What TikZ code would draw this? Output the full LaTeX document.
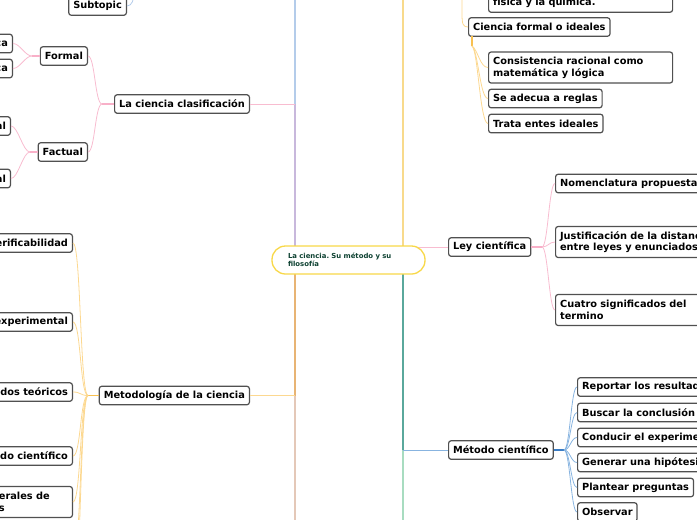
\documentclass[tikz,border=0pt]{standalone}
\usepackage{fontspec}
\setmainfont{DejaVu Sans}
\frenchspacing
\begin{document}
\begin{tikzpicture}[x=1pt,y=-1pt,
  box/.style={draw=boxc, line width=1.2pt, rounded corners=2.5pt, fill=white,
    font=\bfseries\fontsize{9.8}{11.7}\selectfont, inner xsep=4.5pt, inner ysep=3pt,
    minimum height=18.5pt, align=left, text=black},
  twol/.style={box, minimum height=31pt, text width=175pt},
  cutl/.style={box, anchor=east, text width=80pt, align=right},
  pinkc/.style={draw=pinkl, line width=0.8pt},
  pinks/.style={draw=pinkd, line width=1.6pt},
  yelc/.style={draw=yell, line width=0.8pt},
  blc/.style={draw=bluel, line width=0.8pt},
  trunk/.style={line width=1.2pt},
]
\definecolor{boxc}{HTML}{505050}
\definecolor{pinkl}{HTML}{F8BCD0}
\definecolor{pinkd}{HTML}{F8B0C8}
\definecolor{yell}{HTML}{FCD890}
\definecolor{yeld}{HTML}{F8C050}
\definecolor{bluel}{HTML}{88B4E0}
\definecolor{blued}{HTML}{3A7CC4}
\definecolor{tblue}{HTML}{B4CCEA}
\definecolor{tpurple}{HTML}{C8B8DC}
\definecolor{torange}{HTML}{E8B474}
\definecolor{ttan}{HTML}{E4C8B8}
\definecolor{tyellow}{HTML}{F8DA8C}
\definecolor{tteal}{HTML}{5AA89C}
\definecolor{tgreen}{HTML}{A8DCC0}
\definecolor{pillc}{HTML}{F8D848}
\definecolor{ctext}{HTML}{0E4232}
\useasboundingbox (0,0) rectangle (697,520);
\clip (0,0) rectangle (697,520);

% trunk coordinates
\coordinate (lt0) at (295,-5);
\coordinate (lt1) at (295,104);
\coordinate (lt2) at (295,250);
\coordinate (lt3) at (295,270);
\coordinate (lt4) at (295,395.5);
\coordinate (lt5) at (295,525);
\coordinate (rt0) at (403,-5);
\coordinate (rt1) at (403,250);
\coordinate (rt2) at (403,247);
\coordinate (rt3) at (403,270);
\coordinate (rt4) at (403,450);
\coordinate (rt5) at (403,525);

\draw[trunk, tblue] (lt0) -- (lt1);
\draw[trunk, tpurple] (lt1) -- (lt2);
\draw[trunk, torange] (lt3) -- (lt4);
\draw[trunk, ttan] (lt4) -- (lt5);
\draw[trunk, tyellow] (rt0) -- (rt1);
\draw[trunk, tteal] (rt3) -- (rt4);
\draw[trunk, tgreen] (rt4) -- (rt5);

% left side nodes
\node[box, anchor=east] (sub) at (127,6) {Subtopic};
\node[box, anchor=east] (clas) at (250,104) {La ciencia clasificación};
\node[box, anchor=east] (formal) at (88,56) {Formal};
\node[box, anchor=east] (factual) at (88,152) {Factual};
\node[cutl] (f1) at (13,43.5) {ca};
\node[cutl] (f2) at (13,68.5) {ca};
\node[cutl] (a1) at (11,126) {al};
\node[cutl] (a2) at (11,178.5) {al};
\node[box, anchor=east] (metod) at (250,395.5) {Metodología de la ciencia};
\node[cutl] (m1) at (73,243) {erificabilidad};
\node[cutl] (m2) at (73,322) {experimental};
\node[cutl] (m3) at (73,392) {dos teóricos};
\node[cutl] (m4) at (73,456) {do científico};
\node[box, anchor=east, minimum height=31pt, text width=69pt, align=left] (m5) at (73,502) {erales de\\s};
\coordinate (m6) at (73,560);
\coordinate (m7) at (73,600);

% right side nodes
\node[box, anchor=west, minimum width=184pt, text width=175pt] (fis) at (488,3) {física y la química.};
\node[box, anchor=west] (cfo) at (468,27) {Ciencia formal o ideales};
\node[twol, anchor=west] (c1) at (488,67.5) {Consistencia racional como\\matemática y lógica};
\node[box, anchor=west] (c2) at (488,98.5) {Se adecua a reglas};
\node[box, anchor=west] (c3) at (488,123.5) {Trata entes ideales};
\node[box, anchor=west] (ley) at (448,247) {Ley científica};
\node[box, anchor=west] (l1) at (555,183.5) {Nomenclatura propuesta};
\node[twol, anchor=west] (l2) at (555,242) {Justificación de la distancia\\entre leyes y enunciados};
\node[twol, anchor=west] (l3) at (555,310) {Cuatro significados del\\termino};
\node[box, anchor=west] (met) at (448,450) {Método científico};
\node[box, anchor=west] (r1) at (577,387) {Reportar los resultados};
\node[box, anchor=west] (r2) at (577,412.5) {Buscar la conclusión};
\node[box, anchor=west] (r3) at (577,437.5) {Conducir el experimento};
\node[box, anchor=west] (r4) at (577,462.5) {Generar una hipótesis};
\node[box, anchor=west] (r5) at (577,487.5) {Plantear preguntas};
\node[box, anchor=west] (r6) at (577,512) {Observar};

% trunk branches
\draw[pinkc] (lt1) -- (clas.east);
\draw[yell, line width=0.9pt] (lt4) -- (metod.east);
\draw[pinkc] (rt2) -- (ley.west);
\draw[blc] (rt4) -- (met.west);

% subtopic
\coordinate (subp) at (134,-6);
\draw[draw=tblue, line width=0.8pt] (sub.east) .. controls +(5,0) and +(0,5) .. (subp);

% clasificacion
\coordinate (cs) at (102,104);
\draw[pinks] (clas.west) -- (cs);
\foreach \t in {formal,factual}
  \draw[pinkc] (cs) .. controls +(-7,0) and +(7,0) .. (\t.east);
\coordinate (fs) at (32,56);
\draw[pinks] (formal.west) -- (fs);
\foreach \t in {f1,f2}
  \draw[pinkc] (fs) .. controls +(-7,0) and +(7,0) .. (\t.east);
\coordinate (as) at (30,152);
\draw[pinks] (factual.west) -- (as);
\foreach \t in {a1,a2}
  \draw[pinkc] (as) .. controls +(-7,0) and +(7,0) .. (\t.east);

% metodologia
\coordinate (ms) at (88,395.5);
\draw[draw=yeld, line width=1.6pt] (metod.west) -- (ms);
\foreach \t in {m6,m7}
  \draw[yelc] (ms) .. controls +(-8,0) and +(8,0) .. (\t);
\foreach \t in {m1,m2,m3,m4,m5}
  \draw[yelc] (ms) .. controls +(-8,0) and +(8,0) .. (\t.east);

% ciencia formal
\coordinate (cp) at (462,-6);
\draw[yelc] (cp) -- (462,14) .. controls (462,24) and (463,27) .. (cfo.west);
\coordinate (cf1) at (472,36);
\coordinate (cf2) at (472,46);
\draw[draw=yeld, line width=1.2pt] (cf1) -- (cf2);
\foreach \t in {c1,c2,c3}
  \draw[yelc] (cf2) .. controls +(6,4) and +(-8,0) .. (\t.west);

% ley
\coordinate (ls) at (542,247);
\draw[pinks] (ley.east) -- (ls);
\foreach \t in {l1,l2,l3}
  \draw[pinkc] (ls) .. controls +(6,0) and +(-6,0) .. (\t.west);

% metodo
\coordinate (rs) at (564,450);
\draw[draw=blued, line width=1.6pt] (met.east) -- (rs);
\foreach \t in {r1,r2,r3,r4,r5,r6}
  \draw[blc] (rs) .. controls +(6,0) and +(-6,0) .. (\t.west);

% central node (on top of trunk ends)
\node[draw=pillc, line width=1.3pt, fill=white, rounded corners=13.5pt,
  minimum width=153pt, minimum height=28pt, inner xsep=16pt, text width=121pt,
  align=left, text=ctext, font=\bfseries\fontsize{6.9}{8}\selectfont]
  (center) at (348.5,260) {La ciencia. Su método y su\\filosofía};
\end{tikzpicture}
\end{document}
